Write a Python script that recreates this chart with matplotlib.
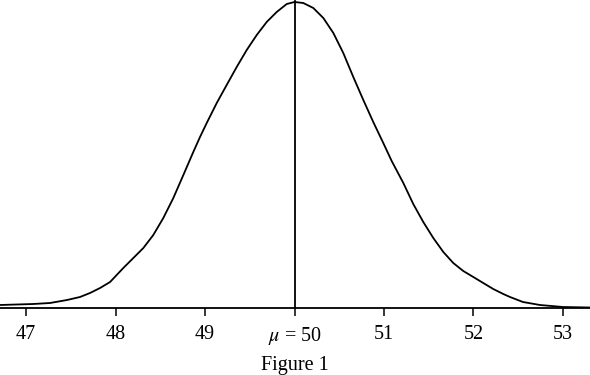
import matplotlib
matplotlib.use("Agg")
import matplotlib.pyplot as plt

# Curve points (x value, height above the axis in px units)
curve_x = [46.709, 47.078, 47.268, 47.458, 47.603, 47.715, 47.827, 47.939, 48.013,
           48.087, 48.199, 48.311, 48.422, 48.534, 48.646, 48.758, 48.869, 48.944,
           49.019, 49.131, 49.242, 49.354, 49.466, 49.578, 49.689, 49.801, 49.913,
           50.000, 50.098, 50.210, 50.322, 50.434, 50.545, 50.657, 50.769, 50.880,
           50.992, 51.086, 51.216, 51.327, 51.439, 51.551, 51.663, 51.774, 51.886,
           51.998, 52.109, 52.221, 52.333, 52.408, 52.553, 52.743, 53.000, 53.302]
curve_y = [3, 4, 5, 8, 11, 15, 20, 26, 33,
           40, 50, 60, 73, 90, 110, 133, 156, 171,
           185, 205, 223, 241, 258, 273, 286, 296, 304,
           306, 305, 300, 290, 275, 255, 231, 208, 186,
           165, 147, 125, 104, 86, 70, 56, 45, 37,
           31, 25, 19, 14, 11, 6, 3, 1, 0.5]

tick_values = [47, 48, 49, 50, 51, 52, 53]
tick_labels = ["47", "48", "49", r"$\mu$ = 50", "51", "52", "53"]
mean_value = 50
peak_height = 307
caption = "Figure 1"

plt.rcParams['font.family'] = ['Liberation Serif', 'DejaVu Serif']
plt.rcParams['mathtext.fontset'] = 'stix'

fig = plt.figure(figsize=(5.9, 3.75), dpi=100)
ax = fig.add_axes([0, 67/375, 1, 308/375])

ax.plot(curve_x, curve_y, color='black', lw=1.3, solid_joinstyle='round',
        solid_capstyle='round')
ax.plot([mean_value, mean_value], [0, peak_height], color='black', lw=1.3)

ax.set_xlim(46.709, 53.302)
ax.set_ylim(0, 308)

for s in ['top', 'left', 'right']:
    ax.spines[s].set_visible(False)
ax.spines['bottom'].set_linewidth(1.3)
ax.set_yticks([])
ax.set_xticks(tick_values)
ax.set_xticklabels(tick_labels, fontsize=14.5)
ax.tick_params(axis='x', direction='out', length=5.5, width=1.1, pad=7)

fig.text(294.5/590, 5/375, caption, ha='center', va='baseline', fontsize=14.5)

fig.savefig("out.png", dpi=100)
